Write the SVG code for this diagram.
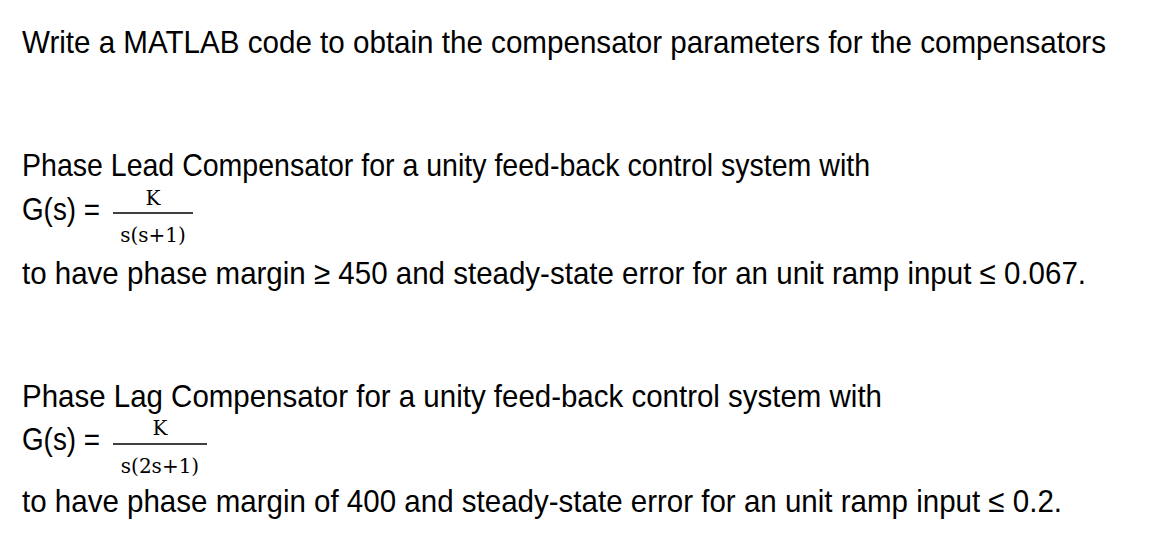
<svg xmlns="http://www.w3.org/2000/svg" width="1162" height="546" viewBox="0 0 1162 546">
<style>
.t{font-family:"Liberation Sans",Arial,sans-serif;font-size:32px;fill:#000}
.m{font-family:"DejaVu Serif","Liberation Serif",serif;font-size:20px;fill:#000;text-anchor:middle}
</style>
<rect width="1162" height="546" fill="#fff"/>
<text class="t" x="22" y="53" textLength="1084" lengthAdjust="spacingAndGlyphs">Write a MATLAB code to obtain the compensator parameters for the compensators</text>
<text class="t" x="22" y="176" textLength="848" lengthAdjust="spacingAndGlyphs">Phase Lead Compensator for a unity feed-back control system with</text>
<text class="t" x="22" y="220" textLength="78" lengthAdjust="spacingAndGlyphs">G(s) =</text>
<text class="m" x="153" y="205">K</text>
<line x1="113" y1="213" x2="193" y2="213" stroke="#000" stroke-width="1.5"/>
<text class="m" x="153" y="242">s(s+1)</text>
<text class="t" x="22" y="284" textLength="1064" lengthAdjust="spacingAndGlyphs">to have phase margin ≥ 450 and steady-state error for an unit ramp input ≤ 0.067.</text>
<text class="t" x="22" y="407" textLength="860" lengthAdjust="spacingAndGlyphs">Phase Lag Compensator for a unity feed-back control system with</text>
<text class="t" x="22" y="450" textLength="78" lengthAdjust="spacingAndGlyphs">G(s) =</text>
<text class="m" x="160" y="435">K</text>
<line x1="113" y1="444" x2="207" y2="444" stroke="#000" stroke-width="1.5"/>
<text class="m" x="160" y="473">s(2s+1)</text>
<text class="t" x="22" y="512" textLength="1040" lengthAdjust="spacingAndGlyphs">to have phase margin of 400 and steady-state error for an unit ramp input ≤ 0.2.</text>
</svg>
